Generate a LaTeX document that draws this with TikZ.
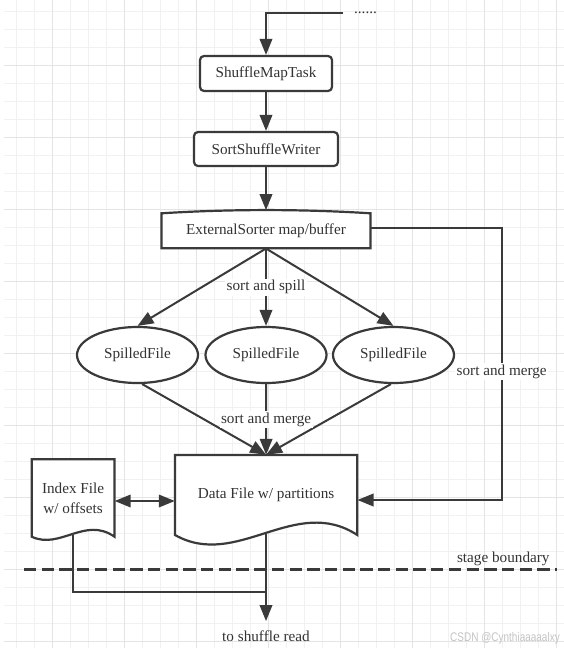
\documentclass[tikz,border=0pt]{standalone}
\usepackage{fontspec}
\setmainfont{Liberation Serif}
\newfontfamily\wmfont[FakeStretch=0.8]{Liberation Sans}
\usetikzlibrary{arrows.meta,shapes.geometric,calc}
\definecolor{ln}{HTML}{3A3A3A}
\definecolor{tx}{HTML}{333333}
\definecolor{gminor}{HTML}{F1F1F1}
\definecolor{gmajor}{HTML}{E4E4E4}
\definecolor{wm}{HTML}{C4C4C4}
\begin{document}
\begin{tikzpicture}[x=1pt,y=-1pt,
  every node/.style={text=tx,font=\fontsize{15.2}{20}\selectfont},
  procbox/.style={draw=ln,line width=2.2pt,rounded corners=4pt,fill=white,inner sep=0pt},
  spill/.style={ellipse,draw=ln,line width=2.2pt,fill=white,minimum width=121pt,minimum height=56pt,inner sep=0pt},
  plain/.style={inner sep=0pt},
  lbl/.style={fill=white,inner sep=1.5pt},
  conn/.style={draw=ln,line width=2pt},
  arr/.style={conn,-{Triangle[length=16pt,width=12.5pt]}},
  darr/.style={conn,{Triangle[length=16pt,width=12.5pt]}-{Triangle[length=16pt,width=12.5pt]}},
  shapeline/.style={draw=ln,line width=2.2pt,fill=white,line join=miter},
  gridminor/.style={draw=gminor,line width=1pt},
  gridmajor/.style={draw=gmajor,line width=1.2pt}]
\useasboundingbox (0,0) rectangle (564,648);
\fill[white] (0,0) rectangle (564,648);
% grid
\foreach \i in {0,...,30} \draw[gridminor] (16.3+18*\i,0) -- (16.3+18*\i,648);
\foreach \j in {0,...,35} \draw[gridminor] (4,11.7+18*\j) -- (564,11.7+18*\j);
\foreach \i in {0,...,7} \draw[gridmajor] (52.3+72*\i,0) -- (52.3+72*\i,648);
\foreach \j in {0,...,8} \draw[gridmajor] (4,65.7+72*\j) -- (564,65.7+72*\j);

% shapes
\node[procbox,minimum width=132pt,minimum height=35pt] (smt) at (266,73.5) {ShuffleMapTask};
\node[procbox,minimum width=144pt,minimum height=34pt] (ssw) at (266,149) {SortShuffleWriter};
\draw[shapeline] (161.5,248.3) -- (161.5,213.3) .. controls (230,209) and (302,209) .. (370.5,213.3) -- (370.5,248.3) -- cycle;
\node[plain,minimum width=209pt,minimum height=35pt] (ext) at (266,230.8) {\raisebox{2.5pt}{ExternalSorter map/buffer}};

\node[spill] (e1) at (137.5,355) {SpilledFile};
\node[spill] (e2) at (266,355) {SpilledFile};
\node[spill] (e3) at (393.5,355) {SpilledFile};

\draw[shapeline] (175,535) -- (175,455) -- (357.3,455) -- (357.3,535) .. controls (295,494.3) and (237,570) .. (175,535) -- cycle;
\node[plain,minimum width=182.3pt,minimum height=80pt] (data) at (266.15,495) {Data File w/ partitions};

\draw[shapeline] (31.7,536.7) -- (31.7,459.3) -- (114.5,459.3) -- (114.5,536.7) .. controls (85,516) and (60,550) .. (31.7,536.7) -- cycle;
\node[plain,minimum width=82.8pt,minimum height=77.4pt,align=center] (idx) at (73.1,498) {Index File\\w/ offsets};

% top
\node[plain,inner xsep=11pt] (dots) at (365.5,13.3) {......};
\draw[arr] (dots.west) -| (smt.north);
\draw[arr] (smt.south) -- (ssw.north);
\draw[arr] (ssw.south) -- ([yshift=3pt]ext.north);

% sort and spill
\draw[arr] (ext.south) -- (e1.north);
\draw[arr] (ext.south) -- (e3.north);
\draw[arr] (ext.south) -- node[lbl] {sort and spill} (e2.north);

% sort and merge
\draw[arr] (e1.-81) -- (data.north);
\draw[arr] (e3.-95) -- (data.north);
\draw[arr] (e2.south) -- node[lbl] {sort and merge} (data.north);

% right bypass
\coordinate (rt) at (501.7,228.3);
\coordinate (rc) at (501.7,500);
\draw[arr] ([yshift=2.5pt]ext.east) -- (rt) -- node[lbl,pos=0.528] {sort and merge} (rc) -- (data.east |- rc);

% index <-> data
\coordinate (mid) at (145,501);
\draw[darr] (idx.east |- mid) -- (data.west |- mid);

% bottom
\coordinate (dbot) at (266,533);
\coordinate (ibot) at (73.1,535);
\coordinate (jn) at (266,592.3);
\node[inner xsep=0pt,inner ysep=10pt] (read) at (266,636.7) {to shuffle read};
\draw[arr] (dbot) -- (read.north);
\draw[conn] (ibot) |- (jn);

% stage boundary
\draw[ln,line width=2.7pt,dash pattern=on 12.3pt off 5.4pt] (24,569.3) -- (556.7,569.3);
\node[anchor=base] (sb) at (503.3,562.7) {stage boundary};

% watermark
\node[text=wm,font=\wmfont\fontsize{12.5}{14}\selectfont,anchor=base east,inner sep=0pt] (wmk) at (560,641.5) {CSDN @Cynthiaaaaalxy};
\end{tikzpicture}
\end{document}
